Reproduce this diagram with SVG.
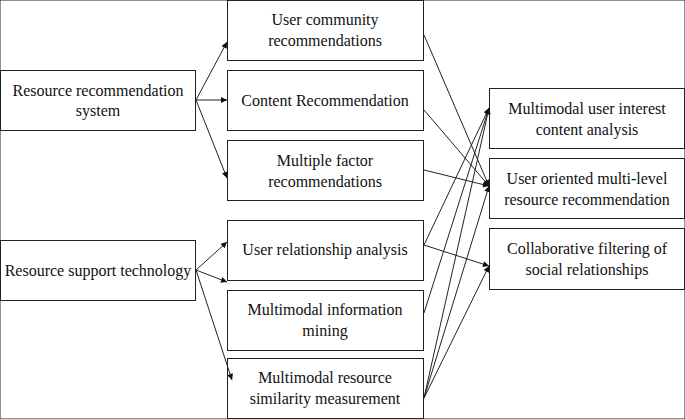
<svg xmlns="http://www.w3.org/2000/svg" width="685" height="419" viewBox="0 0 685 419">
<style>
rect{fill:#fff;stroke:#222;stroke-width:1}
text{font-family:'Liberation Serif','Times New Roman','DejaVu Serif',serif;font-size:16px;fill:#111;text-anchor:middle}
.c line{stroke:#222;stroke-width:1;marker-end:url(#a)}
</style>
<defs><marker id="a" viewBox="0 0 10 10" refX="10" refY="5" markerWidth="8" markerHeight="6" orient="auto" markerUnits="userSpaceOnUse"><path d="M0,0L10,5L0,10z" fill="#111"/></marker></defs>
<rect width="685" height="419" fill="#fff" stroke="none"/>
<g id="n1"><rect x="0.5" y="70.5" width="195" height="60"/><text x="98" y="96" font-family="Liberation Serif, serif">Resource recommendation</text><text x="98" y="116" font-family="Liberation Serif, serif">system</text></g>
<g id="n2"><rect x="0.5" y="240.5" width="195" height="60"/><text x="98" y="276" font-family="Liberation Serif, serif">Resource support technology</text></g>
<g id="m1"><rect x="227.5" y="0.5" width="196" height="60"/><text x="325" y="25" font-family="Liberation Serif, serif">User community</text><text x="325" y="46" font-family="Liberation Serif, serif">recommendations</text></g>
<g id="m2"><rect x="227.5" y="70.5" width="196" height="60"/><text x="325" y="106" font-family="Liberation Serif, serif">Content Recommendation</text></g>
<g id="m3"><rect x="227.5" y="140.5" width="196" height="60"/><text x="325" y="166" font-family="Liberation Serif, serif">Multiple factor</text><text x="325" y="187" font-family="Liberation Serif, serif">recommendations</text></g>
<g id="m4"><rect x="227.5" y="220.5" width="196" height="60"/><text x="325" y="255" font-family="Liberation Serif, serif">User relationship analysis</text></g>
<g id="m5"><rect x="227.5" y="290.5" width="196" height="60"/><text x="325" y="315" font-family="Liberation Serif, serif">Multimodal information</text><text x="325" y="336" font-family="Liberation Serif, serif">mining</text></g>
<g id="m6"><rect x="227.5" y="358.5" width="196" height="60"/><text x="325" y="383" font-family="Liberation Serif, serif">Multimodal resource</text><text x="325" y="404" font-family="Liberation Serif, serif">similarity measurement</text></g>
<g id="r1"><rect x="489.5" y="88.5" width="195" height="60"/><text x="587" y="114" font-family="Liberation Serif, serif">Multimodal user interest</text><text x="587" y="135" font-family="Liberation Serif, serif">content analysis</text></g>
<g id="r2"><rect x="489.5" y="158.5" width="195" height="60"/><text x="587" y="184" font-family="Liberation Serif, serif">User oriented multi-level</text><text x="587" y="205" font-family="Liberation Serif, serif">resource recommendation</text></g>
<g id="r3"><rect x="489.5" y="228.5" width="195" height="61"/><text x="587" y="254" font-family="Liberation Serif, serif">Collaborative filtering of</text><text x="587" y="275" font-family="Liberation Serif, serif">social relationships</text></g>
<g class="c">
<line x1="196" y1="100" x2="227" y2="42"/>
<line x1="196" y1="100" x2="227" y2="100"/>
<line x1="196" y1="100" x2="227" y2="178"/>
<line x1="196" y1="270" x2="227" y2="242"/>
<line x1="196" y1="270" x2="227" y2="282"/>
<line x1="196" y1="270" x2="232" y2="380"/>
<line x1="424" y1="35" x2="489" y2="186"/>
<line x1="424" y1="110" x2="489" y2="186"/>
<line x1="424" y1="170" x2="489" y2="186"/>
<line x1="424" y1="245" x2="489" y2="108"/>
<line x1="424" y1="245" x2="489" y2="266"/>
<line x1="424" y1="313" x2="489" y2="108"/>
<line x1="424" y1="398" x2="489" y2="108"/>
<line x1="424" y1="398" x2="489" y2="186"/>
<line x1="424" y1="398" x2="489" y2="266"/>
</g>
</svg>
